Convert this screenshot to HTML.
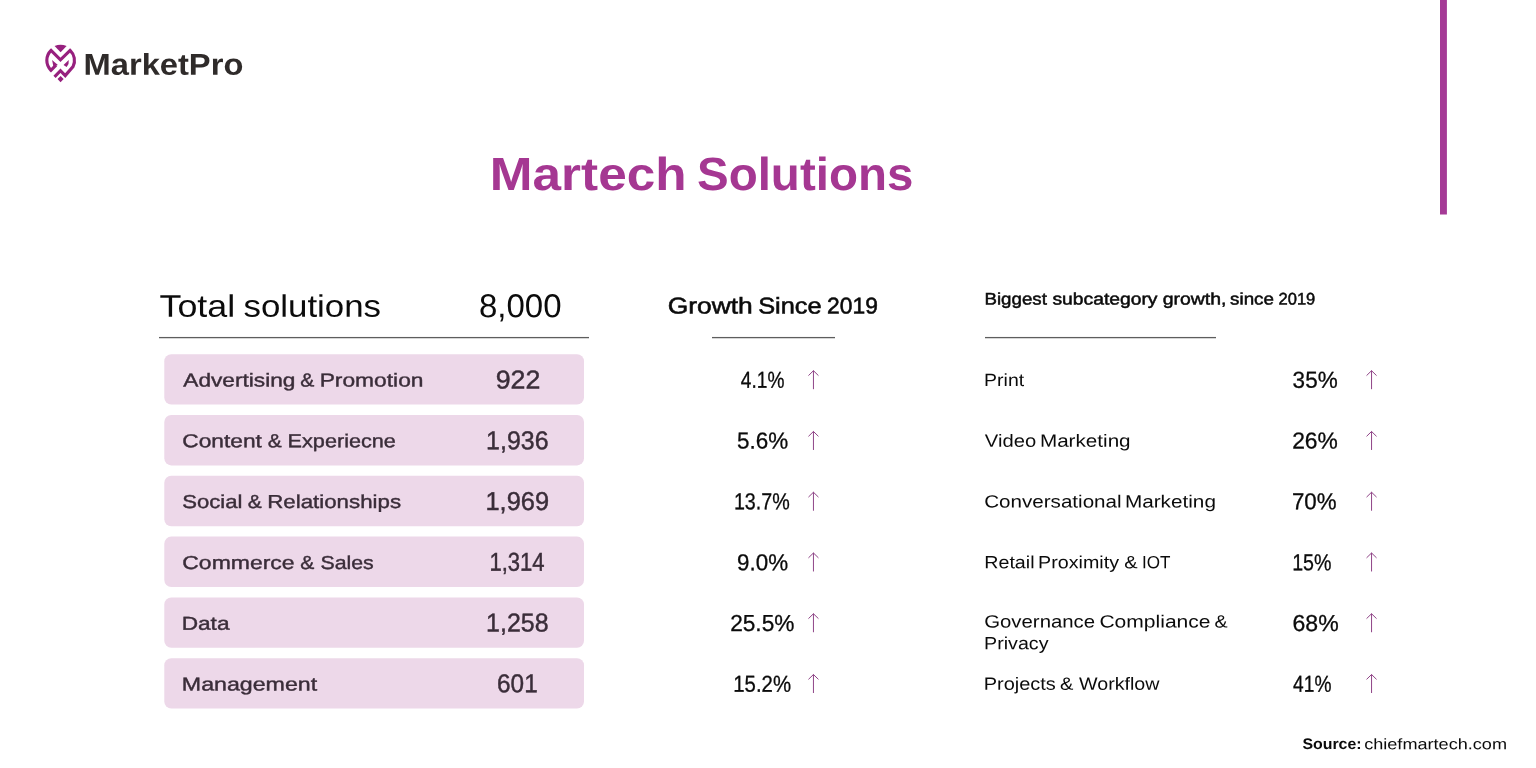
<!DOCTYPE html>
<html lang="en">
<head>
<meta charset="utf-8">
<title>Martech Solutions</title>
<style>
*{box-sizing:border-box}
html,body{margin:0;padding:0;background:#fff}
body{width:1536px;height:768px;position:relative;overflow:hidden;font-family:"Liberation Sans",sans-serif;text-rendering:geometricPrecision}
ul,li{margin:0;padding:0;list-style:none;display:contents}
.t{position:absolute;left:0;margin:0;padding:0;white-space:nowrap;line-height:1;font-weight:400;display:block;height:1em}
.w{position:absolute;top:0;display:block;transform-origin:0 0;white-space:nowrap}
.bar{position:absolute;left:1440px;top:0;width:7px;height:215px;background:#a53a96;transform:scale(.986,.9977);transform-origin:0 0}
.hr{position:absolute;height:1px;top:337px;background:#5e5e5e;transform:translateY(-.05px) scaleY(1.3);transform-origin:0 0}
.row{position:absolute;left:164px;width:420px;height:50px;border-radius:7px;background:#edd8e9;transform-origin:0 0}
.ar{position:absolute;display:block;overflow:visible}
.logo{position:absolute;display:block}
.brand{font-size:30.1px;color:#2f2b2a;font-weight:700}
.title{font-size:46.4px;color:#a53792;font-weight:700}
.h-total{color:#0b0b0b}
.lbl{font-size:18.8px;color:#3a2d39;-webkit-text-stroke:0.4px #3a2d39}
.val{font-size:25.9px;color:#3a2d39;-webkit-text-stroke:0.45px #3a2d39}
.pct{font-size:23.1px;color:#0b0b0b;-webkit-text-stroke:0.3px #0b0b0b}
.sub{font-size:17.7px;color:#0b0b0b}
.h-growth{font-size:22.8px;color:#0b0b0b;-webkit-text-stroke:0.55px #0b0b0b}
.h-sub{font-size:16.7px;color:#0b0b0b;-webkit-text-stroke:0.5px #0b0b0b}
.src{color:#0b0b0b}
</style>
</head>
<body>
<header>
<svg class="logo" style="left:42px;top:42px" width="38" height="43" viewBox="0 0 679 768" role="img" aria-label="MarketPro logo">
<g fill="#97207e" stroke="none">
<path d="M225 70Q330 26 440 70L332 185Z"/>
<path d="M332 607L387 662L332 718L277 662Z"/>
<path d="M385 412L478 322Q490 385 440 448Z"/>
<path d="M180 320L284 412L205 440Z"/>
</g>
<g fill="none" stroke="#97207e" stroke-width="56" stroke-linejoin="miter" stroke-miterlimit="6">
<path d="M250 412L160 505A248 248 0 0 1 162 150L330 318L502 150A248 248 0 0 1 555 440L415 600L330 513L224 622"/>
</g>
</svg>
<span class="t brand" style="top:50px"><span class="w" style="left:83px;transform:matrix(1.0858,.0005,0,1,0.53,0.75)">MarketPro</span></span>
</header>
<div class="bar"></div>
<h1 class="t title" style="top:151px"><span class="w" style="left:489px;transform:matrix(1.1059,.0005,0,1,0.82,0)">Martech</span> <span class="w" style="left:696px;transform:matrix(1.0237,.0005,0,1,0.99,0)">Solutions</span></h1>
<main>
<section class="col-total">
<h2 class="t h-total" style="top:290px;font-size:31.2px"><span class="w" style="left:159px;transform:matrix(1.1492,.0005,0,1,0.51,0.75)">Total</span> <span class="w" style="left:243px;transform:matrix(1.1177,.0005,0,1,0.45,0.75)">solutions</span></h2>
<span class="t h-total" style="top:290px;font-size:33.2px"><span class="w" style="left:478px;transform:matrix(0.9947,.0005,0,1,0.91,0.25)">8,000</span></span>
<div class="hr" style="left:159px;width:430.3px"></div>
<ul>
<li><div class="row" style="top:354px;transform:translate(.3px,0.2px) scale(.9993,1.008)"></div>
<span class="t lbl" style="top:371px"><span class="w" style="left:183px;transform:matrix(1.2067,.0005,0,1,0.32,0.5)">Advertising</span> <span class="w" style="left:300px;transform:matrix(1.1238,.0005,0,1,0.2,0.5)">&amp;</span> <span class="w" style="left:319px;transform:matrix(1.2137,.0005,0,1,0.63,0.5)">Promotion</span></span>
<span class="t val" style="top:368px"><span class="w" style="left:495px;transform:matrix(1.0341,.0005,0,1,0.66,0.5)">922</span></span></li>
<li><div class="row" style="top:415px;transform:translate(.3px,0px) scale(.9993,1.008)"></div>
<span class="t lbl" style="top:432px"><span class="w" style="left:182px;transform:matrix(1.2107,.0005,0,1,0.26,0.25)">Content</span> <span class="w" style="left:267px;transform:matrix(1.1176,.0005,0,1,0.82,0.25)">&amp;</span> <span class="w" style="left:287px;transform:matrix(1.1519,.0005,0,1,0.62,0.25)">Experiecne</span></span>
<span class="t val" style="top:429px"><span class="w" style="left:486px;transform:matrix(0.9632,.0005,0,1,0.1,0.25)">1,936</span></span></li>
<li><div class="row" style="top:475px;transform:translate(.3px,0.8px) scale(.9993,1.008)"></div>
<span class="t lbl" style="top:493px"><span class="w" style="left:182px;transform:matrix(1.1768,.0005,0,1,0.26,0)">Social</span> <span class="w" style="left:247px;transform:matrix(1.12,.0005,0,1,0.84,0)">&amp;</span> <span class="w" style="left:267px;transform:matrix(1.1866,.0005,0,1,0.23,0)">Relationships</span></span>
<span class="t val" style="top:489px"><span class="w" style="left:485px;transform:matrix(0.9815,.0005,0,1,0.46,1)">1,969</span></span></li>
<li><div class="row" style="top:536px;transform:translate(.3px,0.6px) scale(.9993,1.008)"></div>
<span class="t lbl" style="top:553px"><span class="w" style="left:182px;transform:matrix(1.2232,.0005,0,1,0.27,1)">Commerce</span> <span class="w" style="left:300px;transform:matrix(1.1211,.0005,0,1,0.26,1)">&amp;</span> <span class="w" style="left:320px;transform:matrix(1.135,.0005,0,1,0.43,1)">Sales</span></span>
<span class="t val" style="top:550px"><span class="w" style="left:489px;transform:matrix(0.8518,.0005,0,1,0.44,0.75)">1,314</span></span></li>
<li><div class="row" style="top:597px;transform:translate(.3px,0.4px) scale(.9993,1.008)"></div>
<span class="t lbl" style="top:614px"><span class="w" style="left:181px;transform:matrix(1.2054,.0005,0,1,0.67,0.75)">Data</span></span>
<span class="t val" style="top:611px"><span class="w" style="left:486px;transform:matrix(0.9631,.0005,0,1,0.11,0.5)">1,258</span></span></li>
<li><div class="row" style="top:658px;transform:translate(.3px,0.2px) scale(.9993,1.008)"></div>
<span class="t lbl" style="top:675px"><span class="w" style="left:181px;transform:matrix(1.2346,.0005,0,1,0.81,0.5)">Management</span></span>
<span class="t val" style="top:672px"><span class="w" style="left:497px;transform:matrix(0.9407,.0005,0,1,0.06,0.25)">601</span></span></li>
</ul>
</section>
<section class="col-growth">
<h2 class="t h-growth" style="top:294px"><span class="w" style="left:667px;transform:matrix(1.1569,.0005,0,1,0.73,0.5)">Growth</span> <span class="w" style="left:758px;transform:matrix(1.1128,.0005,0,1,0.15,0.5)">Since</span> <span class="w" style="left:827px;transform:matrix(1.001,.0005,0,1,0.1,0.5)">2019</span></h2>
<div class="hr" style="left:712px;width:122.7px"></div>
<ul>
<li><span class="t pct" style="top:368px"><span class="w" style="left:740px;transform:matrix(0.8273,.0005,0,1,0.87,0.75)">4.1%</span></span>
<svg class="ar" style="left:805px;top:367px" width="16" height="26" viewBox="0 0 16 26" aria-hidden="true"><path d="M8.45 3.6V22.2M3.45 8.6L8.45 3.7L13.45 8.6" fill="none" stroke="#8f4487" stroke-width="1"/></svg></li>
<li><span class="t pct" style="top:429px"><span class="w" style="left:736px;transform:matrix(0.9723,.0005,0,1,0.98,0.5)">5.6%</span></span>
<svg class="ar" style="left:805px;top:428px" width="16" height="26" viewBox="0 0 16 26" aria-hidden="true"><path d="M8.45 3.36V21.96M3.45 8.36L8.45 3.46L13.45 8.36" fill="none" stroke="#8f4487" stroke-width="1"/></svg></li>
<li><span class="t pct" style="top:490px"><span class="w" style="left:733px;transform:matrix(0.8534,.0005,0,1,0.9,0.25)">13.7%</span></span>
<svg class="ar" style="left:805px;top:488px" width="16" height="26" viewBox="0 0 16 26" aria-hidden="true"><path d="M8.45 4.12V22.72M3.45 9.12L8.45 4.22L13.45 9.12" fill="none" stroke="#8f4487" stroke-width="1"/></svg></li>
<li><span class="t pct" style="top:551px"><span class="w" style="left:737px;transform:matrix(0.9696,.0005,0,1,0.11,0.25)">9.0%</span></span>
<svg class="ar" style="left:805px;top:549px" width="16" height="26" viewBox="0 0 16 26" aria-hidden="true"><path d="M8.45 3.88V22.48M3.45 8.88L8.45 3.98L13.45 8.88" fill="none" stroke="#8f4487" stroke-width="1"/></svg></li>
<li><span class="t pct" style="top:611px"><span class="w" style="left:730px;transform:matrix(0.9823,.0005,0,1,0.14,1)">25.5%</span></span>
<svg class="ar" style="left:805px;top:610px" width="16" height="26" viewBox="0 0 16 26" aria-hidden="true"><path d="M8.45 3.64V22.24M3.45 8.64L8.45 3.74L13.45 8.64" fill="none" stroke="#8f4487" stroke-width="1"/></svg></li>
<li><span class="t pct" style="top:672px"><span class="w" style="left:733px;transform:matrix(0.8822,.0005,0,1,0.27,0.75)">15.2%</span></span>
<svg class="ar" style="left:805px;top:671px" width="16" height="26" viewBox="0 0 16 26" aria-hidden="true"><path d="M8.45 3.4V22M3.45 8.4L8.45 3.5L13.45 8.4" fill="none" stroke="#8f4487" stroke-width="1"/></svg></li>
</ul>
</section>
<section class="col-sub">
<h2 class="t h-sub" style="top:291px"><span class="w" style="left:984px;transform:matrix(1.1202,.0005,0,1,0.48,0.5)">Biggest</span> <span class="w" style="left:1052px;transform:matrix(1.156,.0005,0,1,0.42,0.5)">subcategory</span> <span class="w" style="left:1162px;transform:matrix(1.1627,.0005,0,1,0.78,0.5)">growth,</span> <span class="w" style="left:1230px;transform:matrix(1.1243,.0005,0,1,0.11,0.5)">since</span> <span class="w" style="left:1278px;transform:matrix(0.9905,.0005,0,1,0.53,0.5)">2019</span></h2>
<div class="hr" style="left:985px;width:231.2px"></div>
<ul>
<li><span class="t sub" style="top:372px"><span class="w" style="left:984px;transform:matrix(1.1009,.0005,0,1,0.1,0)">Print</span></span>
<span class="t pct" style="top:368px"><span class="w" style="left:1292px;transform:matrix(0.9748,.0005,0,1,0.62,0.75)">35%</span></span>
<svg class="ar" style="left:1363px;top:367px" width="16" height="26" viewBox="0 0 16 26" aria-hidden="true"><path d="M8.55 3.6V22.2M3.55 8.6L8.55 3.7L13.55 8.6" fill="none" stroke="#8f4487" stroke-width="1"/></svg></li>
<li><span class="t sub" style="top:432px"><span class="w" style="left:984px;transform:matrix(1.1417,.0005,0,1,0.86,0.75)">Video</span> <span class="w" style="left:1039px;transform:matrix(1.1678,.0005,0,1,0.92,0.75)">Marketing</span></span>
<span class="t pct" style="top:429px"><span class="w" style="left:1292px;transform:matrix(0.988,.0005,0,1,0.16,0.5)">26%</span></span>
<svg class="ar" style="left:1363px;top:428px" width="16" height="26" viewBox="0 0 16 26" aria-hidden="true"><path d="M8.55 3.36V21.96M3.55 8.36L8.55 3.46L13.55 8.36" fill="none" stroke="#8f4487" stroke-width="1"/></svg></li>
<li><span class="t sub" style="top:493px"><span class="w" style="left:984px;transform:matrix(1.1648,.0005,0,1,0.19,0.5)">Conversational</span> <span class="w" style="left:1124px;transform:matrix(1.1719,.0005,0,1,0.92,0.5)">Marketing</span></span>
<span class="t pct" style="top:490px"><span class="w" style="left:1291px;transform:matrix(0.9659,.0005,0,1,0.91,0.25)">70%</span></span>
<svg class="ar" style="left:1363px;top:488px" width="16" height="26" viewBox="0 0 16 26" aria-hidden="true"><path d="M8.55 4.12V22.72M3.55 9.12L8.55 4.22L13.55 9.12" fill="none" stroke="#8f4487" stroke-width="1"/></svg></li>
<li><span class="t sub" style="top:554px"><span class="w" style="left:984px;transform:matrix(1.1126,.0005,0,1,0.22,0.25)">Retail</span> <span class="w" style="left:1038px;transform:matrix(1.1122,.0005,0,1,0.09,0.25)">Proximity</span> <span class="w" style="left:1124px;transform:matrix(1.1293,.0005,0,1,0.14,0.25)">&amp;</span> <span class="w" style="left:1142px;transform:matrix(0.9654,.0005,0,1,0.07,0.25)">IOT</span></span>
<span class="t pct" style="top:551px"><span class="w" style="left:1292px;transform:matrix(0.8501,.0005,0,1,0.17,0.25)">15%</span></span>
<svg class="ar" style="left:1363px;top:549px" width="16" height="26" viewBox="0 0 16 26" aria-hidden="true"><path d="M8.55 3.88V22.48M3.55 8.88L8.55 3.98L13.55 8.88" fill="none" stroke="#8f4487" stroke-width="1"/></svg></li>
<li><span class="t sub" style="top:613px"><span class="w" style="left:984px;transform:matrix(1.1509,.0005,0,1,0.2,0.5)">Governance</span> <span class="w" style="left:1099px;transform:matrix(1.1903,.0005,0,1,0.38,0.5)">Compliance</span> <span class="w" style="left:1214px;transform:matrix(1.1089,.0005,0,1,0.53,0.5)">&amp;</span></span>
<span class="t sub" style="top:635px"><span class="w" style="left:984px;transform:matrix(1.1108,.0005,0,1,0.04,0.25)">Privacy</span></span>
<span class="t pct" style="top:611px"><span class="w" style="left:1292px;transform:matrix(0.9995,.0005,0,1,0.52,1)">68%</span></span>
<svg class="ar" style="left:1363px;top:610px" width="16" height="26" viewBox="0 0 16 26" aria-hidden="true"><path d="M8.55 3.64V22.24M3.55 8.64L8.55 3.74L13.55 8.64" fill="none" stroke="#8f4487" stroke-width="1"/></svg></li>
<li><span class="t sub" style="top:675px"><span class="w" style="left:983px;transform:matrix(1.1298,.0005,0,1,0.65,0.75)">Projects</span> <span class="w" style="left:1060px;transform:matrix(1.1349,.0005,0,1,0.06,0.75)">&amp;</span> <span class="w" style="left:1079px;transform:matrix(1.1115,.0005,0,1,0,0.75)">Workflow</span></span>
<span class="t pct" style="top:672px"><span class="w" style="left:1293px;transform:matrix(0.8287,.0005,0,1,0.11,0.75)">41%</span></span>
<svg class="ar" style="left:1363px;top:671px" width="16" height="26" viewBox="0 0 16 26" aria-hidden="true"><path d="M8.55 3.4V22M3.55 8.4L8.55 3.5L13.55 8.4" fill="none" stroke="#8f4487" stroke-width="1"/></svg></li>
</ul>
</section>
</main>
<footer>
<b class="t src" style="top:737px;font-size:15.3px;font-weight:700"><span class="w" style="left:1302px;transform:matrix(1.0394,.0005,0,1,0.4,0)">Source:</span></b>
<span class="t src" style="top:737px;font-size:15.3px"><span class="w" style="left:1364px;transform:matrix(1.1829,.0005,0,1,0.18,0.25)">chiefmartech.com</span></span>
</footer>
</body>
</html>
